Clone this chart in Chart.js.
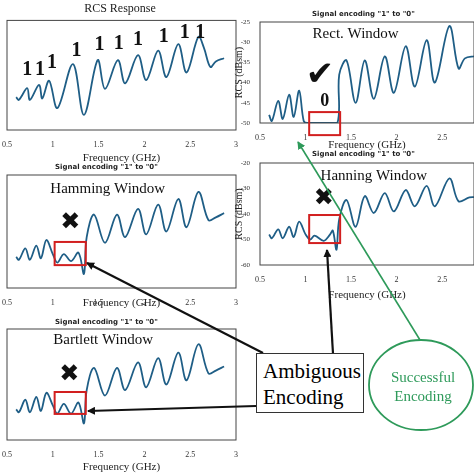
<!DOCTYPE html>
<html>
<head>
<meta charset="utf-8">
<script src="https://cdn.jsdelivr.net/npm/chart.js@4"></script>
<style>
body { margin: 0; background: #fff; }
#page { position: relative; width: 474px; height: 474px; overflow: hidden; background: #fff; }
.pn { position: absolute; }
.sub { position: absolute; font: bold 7px "DejaVu Sans", sans-serif; color: #222; white-space: nowrap; }
#amb { position: absolute; left: 256px; top: 353px; width: 108px; height: 60px; border: 1px solid #333; background: #fff;
  font: 21px "Liberation Serif", serif; line-height: 26px; padding-left: 6px; box-sizing: border-box; padding-top: 4px; }
#succ { position: absolute; left: 380px; top: 368px; width: 86px; text-align: center; font: 15px "Liberation Serif", serif; color: #2e9a5a; line-height: 19px; }
svg { position: absolute; left: 0; top: 0; }
</style>
</head>
<body>
<div id="page">
  <div class="pn" style="left:0;top:0;width:240px;height:165px"><canvas id="cA"></canvas></div>
  <div class="pn" style="left:0;top:160px;width:240px;height:150px"><canvas id="cB"></canvas></div>
  <div class="pn" style="left:0;top:315px;width:240px;height:159px"><canvas id="cC"></canvas></div>
  <div class="pn" style="left:233px;top:0;width:241px;height:152px"><canvas id="cD"></canvas></div>
  <div class="pn" style="left:233px;top:150px;width:241px;height:152px"><canvas id="cE"></canvas></div>
  <svg width="474" height="474">
    <defs>
      <marker id="ab" markerWidth="8" markerHeight="8" refX="7" refY="4" orient="auto" markerUnits="userSpaceOnUse">
        <path d="M0,0 L8,4 L0,8 z" fill="#111"/></marker>
      <marker id="ag" markerWidth="8" markerHeight="8" refX="7" refY="4" orient="auto" markerUnits="userSpaceOnUse">
        <path d="M0,0 L8,4 L0,8 z" fill="#2e9a5a"/></marker>
    </defs>
    <line x1="420" y1="340" x2="298" y2="142" stroke="#2e9a5a" stroke-width="1.6" marker-end="url(#ag)"/>
    <ellipse cx="421" cy="385" rx="52" ry="45" fill="none" stroke="#2e9a5a" stroke-width="1.8"/>
    <line x1="263" y1="353" x2="87" y2="263" stroke="#111" stroke-width="2.2" marker-end="url(#ab)"/>
    <line x1="333" y1="354" x2="327" y2="250" stroke="#111" stroke-width="2.2" marker-end="url(#ab)"/>
    <line x1="256" y1="406" x2="88" y2="411" stroke="#111" stroke-width="2.2" marker-end="url(#ab)"/>
  </svg>
  <div id="amb">Ambiguous<br>Encoding</div>
  <div id="succ">Successful<br>Encoding</div>
</div>
<script>
// panel A: plain RCS response
const freqA = [0.6,0.63,0.72,0.75,0.85,0.885,0.96,1.05,1.22,1.34,1.49,1.57,1.71,1.79,1.93,2.02,2.15,2.24,2.37,2.46,2.59,2.65,2.72,2.78,2.87];
const rcsA  = [-48,-49,-44.7,-49,-43.5,-48.5,-42,-52,-36,-54.5,-34.5,-45,-34.5,-43,-32.7,-41.8,-31,-40.7,-28.7,-39,-26,-30,-37,-35,-33.8];
// Hamming / Bartlett windows
const freqB = [0.6,0.63,0.7,0.75,0.82,0.87,0.93,1.0,1.05,1.12,1.2,1.28,1.34,1.37,1.45,1.57,1.7,1.79,1.93,2.02,2.15,2.24,2.37,2.46,2.59,2.7,2.78,2.87];
const rcsB  = [-49,-50,-46,-50,-45,-49.5,-43,-48,-51,-48,-50.5,-47.5,-55,-42,-34,-44,-34,-42,-32,-41,-30.5,-40,-28.5,-38.5,-26,-36,-35,-33.5];
const rcsC  = [-49,-50,-45.5,-50,-44.5,-49.5,-43,-47.5,-50.5,-47,-50.5,-46.5,-54,-42,-34,-44,-34,-42,-32,-41,-30.5,-40,-28.5,-38.5,-25.5,-36,-35,-33.5];
// Rect / Hanning windows
const freqD = [0.6,0.63,0.7,0.75,0.82,0.87,0.93,0.98,1.02,1.2,1.35,1.37,1.45,1.55,1.65,1.75,1.87,1.97,2.1,2.2,2.33,2.42,2.58,2.68,2.75,2.85,2.9];
const rcsD  = [-48,-49.5,-44.5,-49,-43,-48.5,-42,-49.5,-50,-50,-50,-38,-34.5,-45,-34.5,-44,-33.5,-42.5,-31,-41,-29.5,-40,-26,-36.5,-34,-33.5,-33.5];
const freqE = [0.6,0.63,0.7,0.75,0.82,0.87,0.93,1.0,1.05,1.1,1.2,1.27,1.3,1.34,1.37,1.45,1.55,1.65,1.75,1.87,1.97,2.1,2.2,2.33,2.42,2.58,2.68,2.8,2.9];
const rcsE  = [-48,-49.5,-46,-49.5,-45,-49,-43,-48,-50,-48.5,-50.5,-48,-46.5,-54,-42,-34.5,-45,-33,-39.6,-31.8,-39,-30.6,-37,-29,-37,-26,-35,-33.5,-33.5];
const ticksX = [0.5,1,1.5,2,2.5,3];
const ticksX_R = [0.5,1,1.5,2,2.5];
const ticksY_D = [-50,-45,-40,-35,-30,-25];
const ticksY_E = [-60,-50,-40,-30,-20];

const marksPlugin = {
  id: "marks",
  afterDatasetsDraw(chart, args, opts) {
    const c = chart.ctx, xs = chart.scales.x, ys = chart.scales.y, a = chart.chartArea;
    c.save();
    c.strokeStyle = "#444"; c.lineWidth = 1;
    c.strokeRect(a.left, a.top, a.right - a.left, a.bottom - a.top);
    (opts.boxes || []).forEach(b => {
      c.strokeStyle = "#d21f1f"; c.lineWidth = 2;
      const x0 = xs.getPixelForValue(b[0]), x1 = xs.getPixelForValue(b[1]);
      const y0 = ys.getPixelForValue(b[2]), y1 = ys.getPixelForValue(b[3]);
      c.strokeRect(x0, y0, x1 - x0, y1 - y0);
    });
    (opts.texts || []).forEach(t => {
      c.fillStyle = "#111"; c.font = t[3]; c.textAlign = "center"; c.textBaseline = "middle";
      c.fillText(t[2], xs.getPixelForValue(t[0]), ys.getPixelForValue(t[1]));
    });
    c.restore();
  }
};

function panel(id, fx, fy, o) {
  const data = fx.map((x, i) => ({ x: x, y: fy[i] }));
  new Chart(document.getElementById(id), {
    type: "line",
    data: { datasets: [{ data: data, borderColor: "#1f5e86", borderWidth: 1.8, pointRadius: 0, tension: 0.35 }] },
    plugins: [marksPlugin],
    options: {
      animation: false, responsive: true, maintainAspectRatio: false,
      layout: { padding: { top: o.padTop, right: 0, left: 0, bottom: 0 } },
      plugins: {
        legend: { display: false }, tooltip: { enabled: false },
        title: { display: !!o.title, text: o.title, font: { family: "Liberation Serif", size: 12, weight: "normal" }, color: "#222", padding: { top: 0, bottom: 4 } },
        marks: { boxes: o.boxes, texts: o.texts }
      },
      scales: {
        x: {
          type: "linear", min: 0.5, max: o.xmax,
          grid: { display: false }, border: { display: false },
          afterBuildTicks: s => { s.ticks = o.xticks.map(v => ({ value: v })); },
          ticks: { font: { family: "Liberation Serif", size: 8 }, color: "#333", padding: 2, callback: v => String(v) },
          title: { display: true, text: "Frequency (GHz)", font: { family: "Liberation Serif", size: 11 }, color: "#222", padding: { top: o.xtPad, bottom: 0 } },
          afterFit: s => { s.height = o.xh; }
        },
        y: {
          min: o.ymin, max: o.ymax,
          grid: { display: false }, border: { display: false },
          afterBuildTicks: s => { if (o.yticks) s.ticks = o.yticks.map(v => ({ value: v })); },
          ticks: { display: !!o.yticks, font: { family: "Liberation Serif", size: 7 }, color: "#333", padding: 2, callback: v => String(v) },
          title: { display: !!o.yticks, text: "RCS (dBsm)", font: { family: "Liberation Serif", size: 10 }, color: "#222", padding: 0 },
          afterFit: s => { s.width = o.yw; }
        }
      }
    }
  });
}

const one = "bold 20px 'Liberation Serif'";
const cross = "bold 24px 'DejaVu Sans'";
panel("cA", freqA, rcsA, { title: "RCS Response", padTop: 2, xh: 35, yw: 5, ymin: -60, ymax: -20, xmax: 3, xticks: ticksX,
  xtPad: 6,
  texts: [[0.72,-38,"1",one],[0.86,-38,"1",one],[0.99,-35.5,"1",one],[1.26,-31,"1",one],[1.51,-29,"1",one],
          [1.72,-28.7,"1",one],[1.93,-27,"1",one],[2.21,-26,"1",one],[2.44,-24.5,"1",one],[2.61,-24.5,"1",one]] });
panel("cB", freqB, rcsB, { padTop: 15, xh: 22, yw: 5, ymin: -60, ymax: -20, xmax: 3, xticks: ticksX, xtPad: 6,
  boxes: [[1.02,1.36,-43.7,-51.9]],
  texts: [[1.6,-25,"Hamming Window","15px 'Liberation Serif'"],[1.19,-37,"✖",cross]] });
panel("cC", freqB, rcsC, { padTop: 14, xh: 34, yw: 5, ymin: -60, ymax: -20, xmax: 3, xticks: ticksX, xtPad: 6,
  boxes: [[1.02,1.36,-42.7,-50.6]],
  texts: [[1.55,-24,"Bartlett Window","15px 'Liberation Serif'"],[1.18,-36.6,"✖",cross]] });
panel("cD", freqD, rcsD, { padTop: 22, xh: 29, yw: 27, ymin: -50, ymax: -25, xmax: 2.85, xticks: ticksX_R, xtPad: 2, yticks: ticksY_D,
  boxes: [[1.04,1.38,-47.3,-53]],
  texts: [[1.55,-28,"Rect. Window","15px 'Liberation Serif'"],[1.21,-44.6,"0","bold 18px 'Liberation Serif'"],[1.16,-38.5,"✔","bold 34px 'DejaVu Sans'"]] });
panel("cE", freqE, rcsE, { padTop: 13, xh: 37, yw: 27, ymin: -60, ymax: -20, xmax: 2.85, xticks: ticksX_R, xtPad: 10, yticks: ticksY_E,
  boxes: [[1.04,1.38,-40.4,-51.4]],
  texts: [[1.75,-25,"Hanning Window","15px 'Liberation Serif'"],[1.2,-34,"✖",cross]] });

// small subtitles
[[55,168],[55,323],[312,15],[312,155]].forEach(p => {
  const d = document.createElement("div");
  d.className = "sub"; d.style.left = p[0] + "px"; d.style.top = (p[1] - 5) + "px";
  d.textContent = 'Signal encoding "1" to "0"';
  document.getElementById("page").appendChild(d);
});
</script>
</body>
</html>
